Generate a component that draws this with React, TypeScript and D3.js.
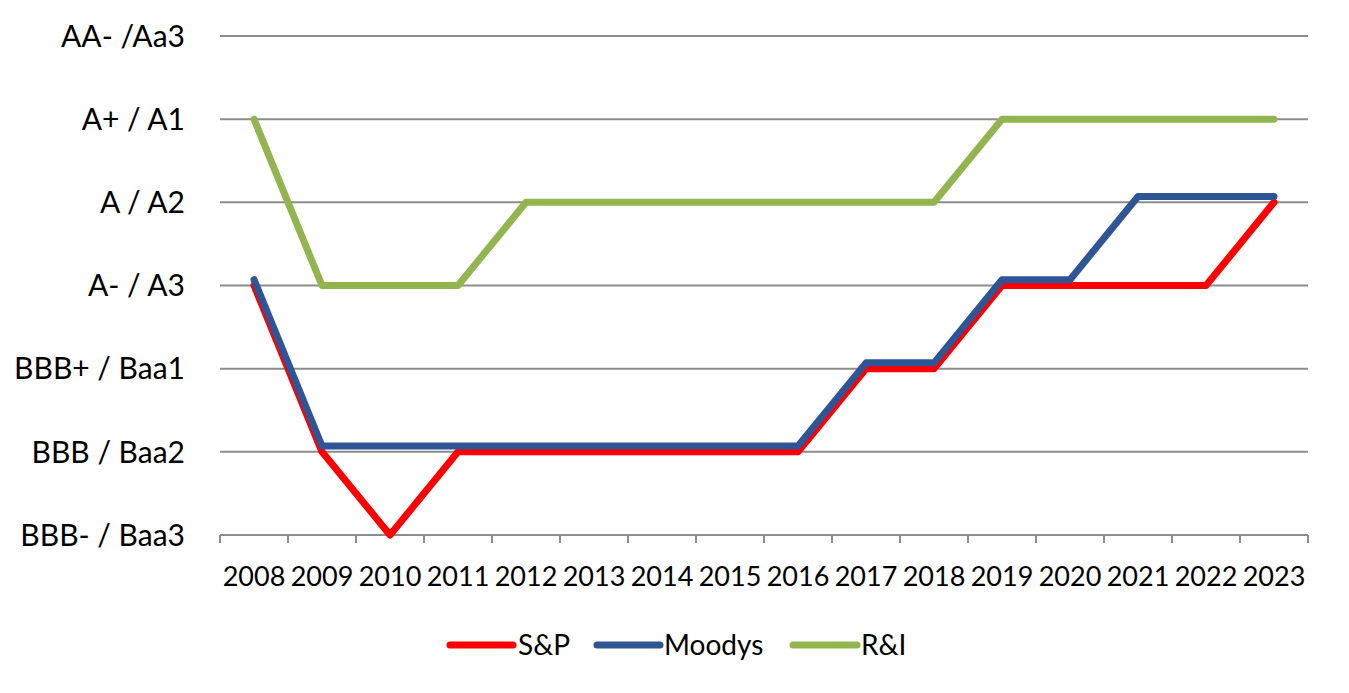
import React from "react";
import * as d3 from "d3";

const years = ["2008","2009","2010","2011","2012","2013","2014","2015","2016","2017","2018","2019","2020","2021","2022","2023"];
const ratingLabels = ["BBB- / Baa3","BBB / Baa2","BBB+ / Baa1","A- / A3","A / A2","A+ / A1","AA- /Aa3"];
// rating level index: 0 = BBB-/Baa3 ... 6 = AA-/Aa3
const spValues = [3,1,0,1,1,1,1,1,1,2,2,3,3,3,3,4];
const moodysValues = [3,1,1,1,1,1,1,1,1,2,2,3,3,4,4,4];
const riValues = [5,3,3,3,4,4,4,4,4,4,4,5,5,5,5,5];
const seriesNames = ["S&P","Moodys","R&I"];
const seriesColors = ["#FF0000","#2F5597","#92B54F"];
const seriesOffsets = [0, 0.07, 0]; // Moodys drawn slightly above to stay visible

const W = 1349, H = 693;
const left = 220, right = 1308, top = 36, bottom = 535;

export default function App() {
  const x = d3.scaleBand<string>().domain(years).range([left, right]).padding(0);
  const y = d3.scaleLinear().domain([0, 6]).range([bottom, top]);
  const series = [spValues, moodysValues, riValues];
  const line = d3.line<number>()
    .x((_, i) => (x(years[i]) as number) + x.bandwidth() / 2)
    .y((d) => y(d));
  const font = "Lato, 'Open Sans', sans-serif";
  const legendItems = [
    { x1: 450, x2: 513, tx: 518 },
    { x1: 597, x2: 660, tx: 664 },
    { x1: 793, x2: 857, tx: 861 },
  ];
  const boundaries = d3.range(years.length + 1).map((i) => left + i * x.bandwidth());
  return (
    <svg width={W} height={H} style={{ position: "absolute", left: 0, top: 0, background: "#fff" }}>
      {ratingLabels.map((lab, i) => (
        <g key={lab}>
          {i > 0 && <line x1={left} x2={right} y1={y(i)} y2={y(i)} stroke="#8C8C8C" strokeWidth={2} />}
          <text x={185} y={y(i)} dy="0.36em" textAnchor="end" fontFamily={font} fontSize={30} fill="#000">{lab}</text>
        </g>
      ))}
      <line x1={left} x2={right} y1={bottom} y2={bottom} stroke="#8C8C8C" strokeWidth={2} />
      {boundaries.map((bx, i) => (
        <line key={i} x1={bx} x2={bx} y1={bottom} y2={bottom + 8} stroke="#8C8C8C" strokeWidth={2} />
      ))}
      {years.map((yr) => (
        <text key={yr} x={(x(yr) as number) + x.bandwidth() / 2} y={576} dy="0.36em" textAnchor="middle" fontFamily={font} fontSize={27} fill="#000">{yr}</text>
      ))}
      {series.map((vals, si) => (
        <path key={si} d={line(vals.map((v) => v + seriesOffsets[si])) as string} fill="none"
          stroke={seriesColors[si]} strokeWidth={7} strokeLinejoin="round" strokeLinecap="round" />
      ))}
      {seriesNames.map((nm, i) => (
        <g key={nm}>
          <line x1={legendItems[i].x1} x2={legendItems[i].x2} y1={645} y2={645} stroke={seriesColors[i]} strokeWidth={7} strokeLinecap="round" />
          <text x={legendItems[i].tx} y={645} dy="0.36em" fontFamily={font} fontSize={28} fill="#000">{nm}</text>
        </g>
      ))}
    </svg>
  );
}
